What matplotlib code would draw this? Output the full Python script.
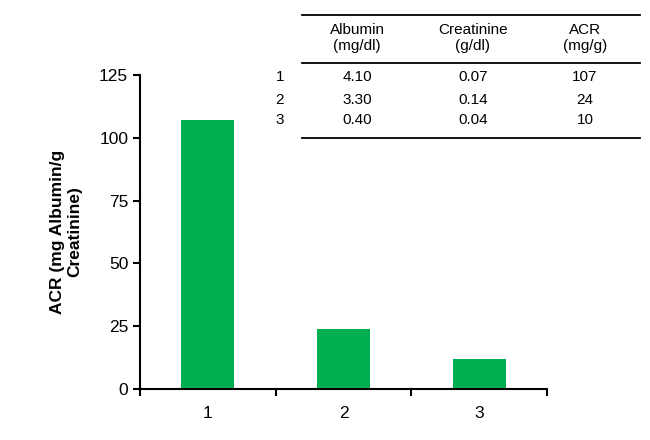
import matplotlib.pyplot as plt
from matplotlib.lines import Line2D

plt.rcParams["font.family"] = ["Liberation Sans", "DejaVu Sans"]

samples = [1, 2, 3]
acr_values = [107, 24, 12]
albumin = ["4.10", "3.30", "0.40"]
creatinine = ["0.07", "0.14", "0.04"]
acr_table = ["107", "24", "10"]
headers = ["Albumin\n(mg/dl)", "Creatinine\n(g/dl)", "ACR\n(mg/g)"]

W, H = 650, 440
fig = plt.figure(figsize=(6.5, 4.4), dpi=100)
ax = fig.add_axes([140 / W, 1 - 389 / H, (547 - 140) / W, (389 - 75) / H])

ax.bar(samples, acr_values, width=0.39, color="#00b050")
ax.set_xlim(0.5, 3.5)
ax.set_ylim(0, 125)
ax.set_yticks([0, 25, 50, 75, 100, 125])
ax.set_xticks(samples)
ax.set_xticks([0.5, 1.5, 2.5, 3.5], minor=True)
ax.tick_params(axis="x", which="major", length=0, pad=12, labelsize=12.5)
ax.tick_params(axis="x", which="minor", length=5, width=1.5, direction="out")
ax.tick_params(axis="y", length=5, width=1.5, direction="out", labelsize=12.5)
for s in ["top", "right"]:
    ax.spines[s].set_visible(False)
for s in ["left", "bottom"]:
    ax.spines[s].set_linewidth(1.5)
ax.set_ylabel("ACR (mg Albumin/g\nCreatinine)", fontsize=12.5, fontweight="bold", labelpad=12)


def fx(x):
    return x / W


def fy(y):
    return 1 - y / H


col_x = [357, 473, 585]
row_y = [77, 100, 120]
for cx, h in zip(col_x, headers):
    fig.text(fx(cx), fy(38), h, ha="center", va="center", fontsize=11, linespacing=1.15)
for i, ry in enumerate(row_y):
    fig.text(fx(280), fy(ry), str(samples[i]), ha="center", va="center", fontsize=11)
    for cx, v in zip(col_x, [albumin[i], creatinine[i], acr_table[i]]):
        fig.text(fx(cx), fy(ry), v, ha="center", va="center", fontsize=11)
for ly in [15, 63, 138]:
    fig.add_artist(Line2D([fx(302), fx(640)], [fy(ly), fy(ly)], color="black", lw=1.3))

fig.savefig("out.png", dpi=100)
